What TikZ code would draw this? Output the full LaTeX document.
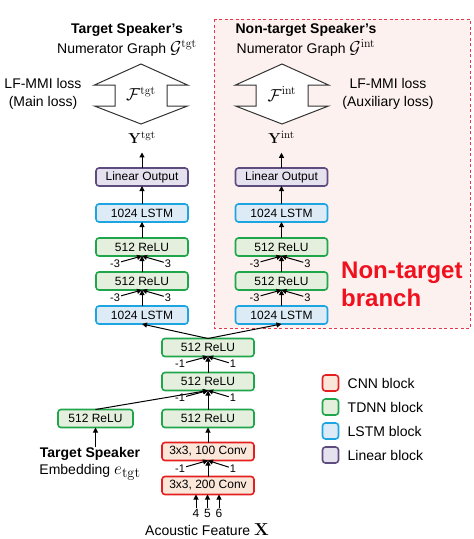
\documentclass[tikz,border=0pt]{standalone}
\usepackage[no-math]{fontspec}
\setmainfont{Liberation Sans}
\usetikzlibrary{positioning}
\usetikzlibrary{arrows.meta}
\definecolor{cnnr}{HTML}{E3201F}
\definecolor{cnnf}{HTML}{FBE6DA}
\definecolor{tdnng}{HTML}{1FA64A}
\definecolor{tdnnf}{HTML}{E4EFDD}
\definecolor{lstmb}{HTML}{1DA5E2}
\definecolor{lstmf}{HTML}{DDEBF6}
\definecolor{linv}{HTML}{5E4C7E}
\definecolor{linf}{HTML}{E6E1EE}
\definecolor{branchr}{HTML}{F0101E}
\definecolor{branchd}{HTML}{E6374A}
\definecolor{branchf}{HTML}{FDF1EF}
\tikzset{
    block/.style = {rectangle, rounded corners=3pt, line width=1.6pt, minimum width=92pt, minimum height=18pt, inner sep=1pt, outer sep=0pt, align=center, font=\fontsize{12}{14}\selectfont, text=black},
    blockr/.style = {block, draw=cnnr, fill=cnnf},
    blockg/.style = {block, draw=tdnng, fill=tdnnf},
    blockb/.style = {block, draw=lstmb, fill=lstmf},
    blockv/.style = {block, draw=linv, fill=linf},
    keybox/.style = {rectangle, rounded corners=3pt, line width=1.6pt, minimum size=16pt, inner sep=0pt, outer sep=0pt},
    keytext/.style = {anchor=west, inner sep=0pt, font=\fontsize{14}{16}\selectfont},
    offs/.style = {inner sep=1pt, font=\fontsize{11}{12}\selectfont},
    note/.style = {align=center, inner sep=0pt, font=\fontsize{14}{17}\selectfont},
    headn/.style = {align=center, inner sep=0pt, font=\fontsize{14}{20}\selectfont},
    outn/.style = {inner sep=1pt, outer ysep=8pt, font=\fontsize{15}{16}\selectfont},
    lossn/.style = {inner sep=0pt, font=\fontsize{17}{17}\selectfont},
    graphn/.style = {line width=1pt, draw=black!80, fill=white},
    edgen/.style = {-{Triangle[length=5pt,width=5pt]}, line width=1pt, black},
    edged/.style = {line width=1pt, draw=branchd, fill=branchf, dash pattern=on 3pt off 2.5pt}, % region
}

\begin{document}
\begin{tikzpicture}[x=1pt, y=-1pt, node distance=16pt]
  \useasboundingbox (0,0) rectangle (474,539);
  % non-target branch area
  \draw[edged] (214,19) rectangle (470,328);

  % shared layers
  \node[blockr] (conva) at (208,485.5) {3x3, 200 Conv};
  \node[blockr, above=of conva] (convb) {3x3, 100 Conv};
  \node[blockg, above=15pt of convb] (relua) {512 ReLU};
  \node[blockg, above=19pt of relua] (relub) {512 ReLU};
  \node[blockg, above=of relub] (reluc) {512 ReLU};
  \node[blockg, minimum width=75pt, left=29pt of relua] (relue) {512 ReLU};

  % target branch
  \node[blockb] (lstma) at (142,315) {1024 LSTM};
  \node[blockg, above=of lstma] (reluf) {512 ReLU};
  \node[blockg, above=of reluf] (relug) {512 ReLU};
  \node[blockb, above=of relug] (lstmb) {1024 LSTM};
  \node[blockv, above=18pt of lstmb] (lina) {Linear Output};
  \node[outn] (ytgt) at (142,137.5) {$\mathbf{Y}^{\mathrm{tgt}}$};

  % non-target branch
  \node[blockb] (lstmc) at (281.5,315) {1024 LSTM};
  \node[blockg, above=of lstmc] (reluh) {512 ReLU};
  \node[blockg, above=of reluh] (relui) {512 ReLU};
  \node[blockb, above=of relui] (lstmd) {1024 LSTM};
  \node[blockv, above=18pt of lstmd] (linb) {Linear Output};
  \node[outn] (yint) at (281.5,137.5) {$\mathbf{Y}^{\mathrm{int}}$};

  % numerator graphs
  \coordinate (gta) at (141,94);
  \draw[graphn] (gta) ++(0,-30) -- ++(46.5,21) -- ++(-20.5,0) -- ++(0,21) -- ++(20.5,0)
    -- ++(-46.5,18) -- ++(-46.5,-18) -- ++(20.5,0) -- ++(0,-21) -- ++(-20.5,0) -- cycle;
  \node[lossn] (ftgt) at (gta) {$\mathcal{F}^{\mathrm{tgt}}$};
  \coordinate (gtb) at (282,94);
  \draw[graphn] (gtb) ++(0,-30) -- ++(46.5,21) -- ++(-20.5,0) -- ++(0,21) -- ++(20.5,0)
    -- ++(-46.5,18) -- ++(-46.5,-18) -- ++(20.5,0) -- ++(0,-21) -- ++(-20.5,0) -- cycle;
  \node[lossn] (fint) at (gtb) {$\mathcal{F}^{\mathrm{int}}$};

  \node[headn] (heada) at (127,40) {\textbf{Target Speaker's}\\Numerator Graph {\fontsize{17}{17}\selectfont$\mathcal{G}^{\mathrm{tgt}}$}};
  \node[headn] (headb) at (306,40) {\textbf{Non-target Speaker's}\\Numerator Graph {\fontsize{17}{17}\selectfont$\mathcal{G}^{\mathrm{int}}$}};
  \node[note, font=\fontsize{14}{18}\selectfont] (lossa) at (43,94) {LF-MMI loss\\(Main loss)};
  \node[note, font=\fontsize{14}{18}\selectfont] (lossb) at (388,94) {LF-MMI loss\\(Auxiliary loss)};
  \node[anchor=west, align=left, inner sep=0pt, text=branchr, font=\bfseries\fontsize{24}{28}\selectfont] (brn) at (341,284) {Non-target\\branch};

  % offsets
  \node[offs] (ma) at ([xshift=-27pt, yshift=-7.5pt]reluf.south) {-3};
  \node[offs] (pa) at ([xshift=26pt, yshift=-7.5pt]reluf.south) {3};
  \node[offs] (mb) at ([xshift=-27pt, yshift=-7.5pt]relug.south) {-3};
  \node[offs] (pb) at ([xshift=26pt, yshift=-7.5pt]relug.south) {3};
  \node[offs] (mc) at ([xshift=-27pt, yshift=-7.5pt]reluh.south) {-3};
  \node[offs] (pc) at ([xshift=26pt, yshift=-7.5pt]reluh.south) {3};
  \node[offs] (md) at ([xshift=-27pt, yshift=-7.5pt]relui.south) {-3};
  \node[offs] (pd) at ([xshift=26pt, yshift=-7.5pt]relui.south) {3};
  \node[offs] (me) at ([xshift=-28pt, yshift=-7.5pt]relub.south) {-1};
  \node[offs] (pe) at ([xshift=25pt, yshift=-7.5pt]relub.south) {1};
  \node[offs] (mf) at ([xshift=-28pt, yshift=-7.5pt]reluc.south) {-1};
  \node[offs] (pf) at ([xshift=25pt, yshift=-7.5pt]reluc.south) {1};
  \node[offs] (mg) at ([xshift=-28pt, yshift=-8pt]convb.south) {-1};
  \node[offs] (pg) at ([xshift=25pt, yshift=-8pt]convb.south) {1};

  % inputs
  \node[offs, font=\fontsize{12}{12}\selectfont] (ina) at (196,513) {4};
  \node[offs, font=\fontsize{12}{12}\selectfont] (inb) at (207.5,513) {5};
  \node[offs, font=\fontsize{12}{12}\selectfont] (inc) at (219,513) {6};
  \node[note] (feat) at (207,529.5) {Acoustic Feature {\fontsize{16}{16}\selectfont$\mathbf{X}$}};
  \node[note] (spk) at (90,464) {\textbf{Target Speaker}\\Embedding {\fontsize{19}{17}\selectfont$e_{\mathrm{tgt}}$}};

  % legend
  \node[keybox, draw=cnnr, fill=cnnf] (kcnn) at (330.5,383) {};
  \node[keytext, right=9pt of kcnn] (tcnn) {CNN block};
  \node[keybox, draw=tdnng, fill=tdnnf] (ktdnn) at (330.5,407) {};
  \node[keytext, right=9pt of ktdnn] (ttdnn) {TDNN block};
  \node[keybox, draw=lstmb, fill=lstmf] (klstm) at (330.5,431) {};
  \node[keytext, right=9pt of klstm] (tlstm) {LSTM block};
  \node[keybox, draw=linv, fill=linf] (klin) at (330.5,455) {};
  \node[keytext, right=9pt of klin] (tlin) {Linear block};

  % connections
  \draw[edgen] (ina) -- (ina |- conva.south);
  \draw[edgen] (inb) -- (inb |- conva.south);
  \draw[edgen] (inc) -- (inc |- conva.south);
  \draw[edgen] (conva) -- (convb);
  \draw[edgen] (mg) -- (convb.south);
  \draw[edgen] (pg) -- (convb.south);
  \draw[edgen] (convb) -- (relua);
  \draw[edgen] (relua) -- (relub);
  \draw[edgen] (me) -- (relub.south);
  \draw[edgen] (pe) -- (relub.south);
  \draw[edgen] (spk.north -| relue.south) -- (relue);
  \draw[edgen] (relue.north) -- (relub.south);
  \draw[edgen] (relub) -- (reluc);
  \draw[edgen] (mf) -- (reluc.south);
  \draw[edgen] (pf) -- (reluc.south);
  \draw[edgen] (reluc.north) -- (lstma.south);
  \draw[edgen] (reluc.north) -- (lstmc.south);

  \draw[edgen] (lstma) -- (reluf);
  \draw[edgen] (ma) -- (reluf.south);
  \draw[edgen] (pa) -- (reluf.south);
  \draw[edgen] (reluf) -- (relug);
  \draw[edgen] (mb) -- (relug.south);
  \draw[edgen] (pb) -- (relug.south);
  \draw[edgen] (relug) -- (lstmb);
  \draw[edgen] (lstmb) -- (lina);
  \draw[edgen] (lina) -- (ytgt);

  \draw[edgen] (lstmc) -- (reluh);
  \draw[edgen] (mc) -- (reluh.south);
  \draw[edgen] (pc) -- (reluh.south);
  \draw[edgen] (reluh) -- (relui);
  \draw[edgen] (md) -- (relui.south);
  \draw[edgen] (pd) -- (relui.south);
  \draw[edgen] (relui) -- (lstmd);
  \draw[edgen] (lstmd) -- (linb);
  \draw[edgen] (linb) -- (yint);
\end{tikzpicture}
\end{document}
